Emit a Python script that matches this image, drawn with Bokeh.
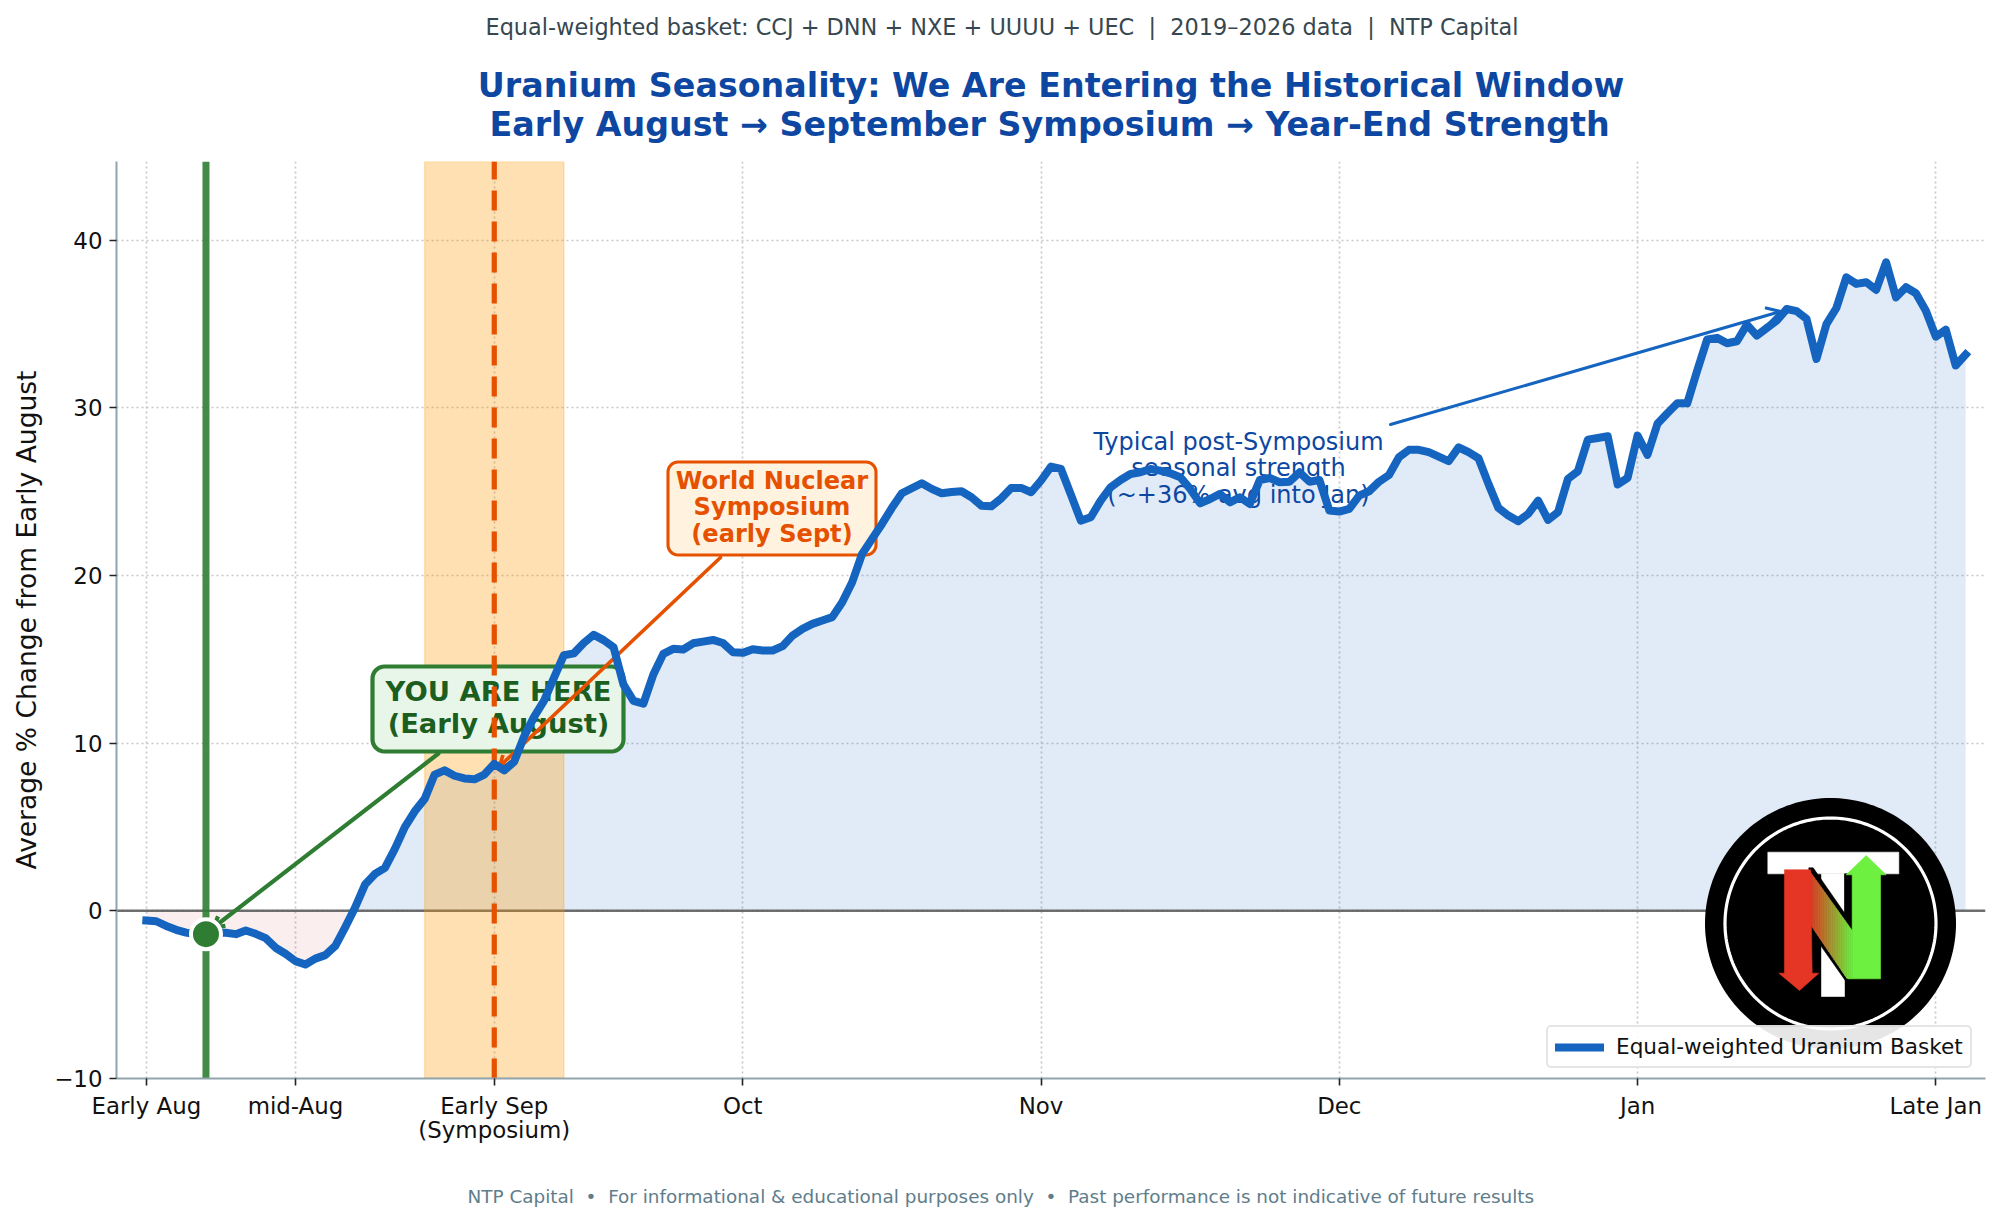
import math
import numpy as np
from bokeh.plotting import figure
from bokeh.embed import file_html
from bokeh.resources import INLINE
from bokeh.models import FixedTicker, Range1d, Title
from bokeh.core.properties import value

# ---- data ----
basket_values = [
    -0.58, -0.62, -0.90, -1.13, -1.30, -1.40, -1.39, -1.30, -1.31, -1.39,
    -1.17, -1.37, -1.63, -2.20, -2.56, -3.00, -3.20, -2.85, -2.64, -2.10,
    -0.98, 0.20, 1.57, 2.20, 2.57, 3.70, 5.00, 5.94, 6.68, 8.13,
    8.38, 8.06, 7.90, 7.85, 8.13, 8.77, 8.38, 8.90, 10.40, 11.57,
    12.53, 13.90, 15.25, 15.36, 15.98, 16.47, 16.15, 15.72, 13.49, 12.53,
    12.36, 14.10, 15.33, 15.63, 15.59, 15.96, 16.06, 16.16, 15.98, 15.43,
    15.39, 15.60, 15.53, 15.53, 15.79, 16.42, 16.82, 17.12, 17.32, 17.52,
    18.41, 19.60, 21.29, 22.19, 23.08, 24.04, 24.91, 25.21, 25.51, 25.17,
    24.91, 24.99, 25.03, 24.67, 24.17, 24.13, 24.61, 25.23, 25.23, 24.97,
    25.67, 26.50, 26.36, 24.83, 23.28, 23.48, 24.47, 25.27, 25.70, 26.06,
    26.16, 26.36, 26.26, 26.10, 25.87, 25.17, 24.31, 24.57, 24.87, 24.37,
    24.67, 24.27, 25.70, 25.82, 25.57, 25.60, 26.16, 25.60, 25.70, 23.88,
    23.82, 23.98, 24.77, 25.03, 25.60, 26.00, 27.06, 27.50, 27.50, 27.36,
    27.10, 26.82, 27.65, 27.36, 27.00, 25.47, 24.04, 23.58, 23.24, 23.68,
    24.47, 23.32, 23.78, 25.77, 26.22, 28.11, 28.21, 28.31, 25.43, 25.83,
    28.35, 27.20, 29.05, 29.68, 30.28, 30.28, 32.23, 34.08, 34.18, 33.86,
    33.98, 34.97, 34.31, 34.77, 35.21, 35.90, 35.77, 35.31, 32.92, 35.00,
    35.96, 37.79, 37.40, 37.50, 37.04, 38.69, 36.60, 37.20, 36.84, 35.80,
    34.25, 34.67, 32.53, 33.18,
]
x_days = list(range(len(basket_values)))
x_tick_positions = [0, 15, 35, 60, 90, 120, 150, 180]
x_tick_labels = ["Early Aug", "mid-Aug", "Early Sep\n(Symposium)", "Oct", "Nov", "Dec", "Jan", "Late Jan"]
y_tick_positions = [-10, 0, 10, 20, 30, 40]
you_are_here_day = 6
symposium_day = 35
symposium_window = (28, 42)

XMIN, XMAX, YMIN, YMAX = -3.0, 185.0, -10.0, 44.7
F_L, F_T, F_W, F_H = 116.0, 161.0, 1869.0, 917.0

def dx(px):
    return XMIN + (px - F_L) * (XMAX - XMIN) / F_W
def dy(py):
    return YMAX - (py - F_T) * (YMAX - YMIN) / F_H

p = figure(width=2000, height=1221, output_backend="svg", toolbar_location=None,
           x_range=Range1d(XMIN, XMAX), y_range=Range1d(YMIN, YMAX),
           min_border_left=116, min_border_right=15, min_border_top=161, min_border_bottom=143,
           outline_line_color=None, background_fill_color="white", border_fill_color="white")

# axes
FONT = "DejaVu Sans"
p.xaxis.ticker = FixedTicker(ticks=x_tick_positions)
p.xaxis.major_label_overrides = dict(zip(x_tick_positions, x_tick_labels))
p.yaxis.ticker = FixedTicker(ticks=y_tick_positions)
for ax in (p.xaxis[0], p.yaxis[0]):
    ax.axis_line_color = "#90A4AE"
    ax.axis_line_width = 2
    ax.major_tick_line_color = "#222222"
    ax.major_tick_line_width = 1.6
    ax.major_tick_in = 0
    ax.major_tick_out = 7
    ax.minor_tick_line_color = None
    ax.major_label_text_font = FONT
    ax.major_label_text_font_size = "22.9px"
    ax.major_label_text_color = "#111111"
p.xaxis.major_label_text_line_height = 0.95
p.xaxis.major_label_standoff = 7
p.yaxis.major_label_standoff = 7
p.yaxis.axis_label = "Average % Change from Early August"
p.yaxis.axis_label_text_font = FONT
p.yaxis.axis_label_text_font_size = "26.5px"
p.yaxis.axis_label_text_font_style = "normal"
p.yaxis.axis_label_text_color = "#111111"
p.yaxis.axis_label_standoff = 9
for g in (p.xgrid[0], p.ygrid[0]):
    g.grid_line_color = "#C8C8C8"
    g.grid_line_dash = "2 3"
    g.grid_line_width = 1.7
p.xgrid.ticker = FixedTicker(ticks=x_tick_positions)
p.ygrid.ticker = FixedTicker(ticks=y_tick_positions)

# heading block: caption on top, then the two-line title (the leading space centres the shorter line)
p.add_layout(Title(text="Uranium Seasonality: We Are Entering the Historical Window\n\u00a0Early August \u2192 September Symposium \u2192 Year-End Strength",
                   align="center", text_font=FONT, text_font_size="33.3px", text_font_style="bold",
                   text_color="#0D47A1", standoff=35), "above")
p.title.text = "Equal-weighted basket: CCJ + DNN + NXE + UUUU + UEC \u00a0|\u00a0 2019\u20132026 data \u00a0|\u00a0 NTP Capital"
p.title.align = "left"
p.title.offset = 369
p.title.text_font = FONT
p.title.text_font_size = "22.4px"
p.title.text_font_style = "normal"
p.title.text_color = "#37474F"
p.title.standoff = 13

# area fills
xs = np.array(x_days, dtype=float)
vs = np.array(basket_values, dtype=float)
p.varea(xs, y1=0, y2=np.clip(vs, 0, None), fill_color="#1565C0", fill_alpha=0.13)
p.varea(xs, y1=0, y2=np.clip(vs, None, 0), fill_color="#C62828", fill_alpha=0.08)
p.line([XMIN, XMAX], [0, 0], line_color="#5f5f5f", line_width=2.5, line_alpha=0.9)

# symposium window
p.quad(left=symposium_window[0], right=symposium_window[1], bottom=YMIN, top=YMAX,
       fill_color="#FF9800", fill_alpha=0.3, line_color="#FF9800", line_alpha=0.25, line_width=1.5)

# you-are-here line
p.line([you_are_here_day, you_are_here_day], [YMIN, YMAX], line_color="#2E7D32", line_alpha=0.9, line_width=7)

def rounded(x0, y0, x1, y1, r, n=8):
    pts = []
    for cx, cy, a0 in ((x1 - r, y0 + r, -90), (x1 - r, y1 - r, 0), (x0 + r, y1 - r, 90), (x0 + r, y0 + r, 180)):
        for k in range(n + 1):
            a = math.radians(a0 + 90 * k / n)
            pts.append((cx + r * math.cos(a), cy + r * math.sin(a)))
    return [dx(a) for a, _ in pts], [dy(b) for _, b in pts]

def arrow(px0, py0, px1, py1, color, width, head=12.0, ang=30.0):
    p.line([dx(px0), dx(px1)], [dy(py0), dy(py1)], line_color=color, line_width=width, line_cap="round")
    t = math.atan2(py0 - py1, px0 - px1)
    bx, by = [], []
    for s in (1, -1):
        a = t + s * math.radians(ang)
        bx.append(dx(px1 + head * math.cos(a)))
        by.append(dy(py1 + head * math.sin(a)))
    p.line([bx[0], dx(px1), bx[1]], [by[0], dy(py1), by[1]], line_color=color, line_width=width, line_join="miter")

# callout boxes and texts (beneath the curve)
gx, gy = rounded(372, 666, 623, 751, 12)
p.patch(gx, gy, fill_color="#E8F5E9", line_color="#2E7D32", line_width=4.2)
p.text([dx(498)], [dy(707)], text=["YOU ARE HERE\n(Early August)"], text_font=value(FONT),
       text_font_size="27.4px", text_font_style="bold", text_color="#1B5E20",
       text_align="center", text_baseline="middle", text_line_height=1.04)
ox, oy = rounded(667.5, 461.5, 875.5, 554.5, 10)
p.patch(ox, oy, fill_color="#FFF3E0", line_color="#E65100", line_width=3.1)
p.text([dx(771.5)], [dy(507)], text=["World Nuclear\nSymposium\n(early Sept)"], text_font=value(FONT),
       text_font_size="24.1px", text_font_style="bold", text_color="#E65100",
       text_align="center", text_baseline="middle", text_line_height=0.955)
p.text([dx(1238)], [dy(468)], text=["Typical post-Symposium\nseasonal strength\n(~+36% avg into Jan)"], text_font=value(FONT),
       text_font_size="24px", text_color="#0D47A1",
       text_align="center", text_baseline="middle", text_line_height=0.96)

# symposium line
p.line([symposium_day, symposium_day], [YMIN, YMAX], line_color="#E65100", line_width=5.2, line_dash="20 11")

# arrows
arrow(720, 557, 499, 766, "#E65100", 3.6, head=12)
arrow(438, 753, 213, 927, "#2E7D32", 4.2, head=12)
arrow(1390, 424, 1780, 311, "#1565C0", 3.1, head=16)

# main curve
p.line(x_days, basket_values, line_color="#1565C0", line_width=8, line_join="round", line_cap="square",
       legend_label="Equal-weighted Uranium Basket")

# you-are-here marker
p.scatter([you_are_here_day], [basket_values[you_are_here_day]], size=30, marker="circle",
          fill_color="#2E7D32", line_color="white", line_width=4)

# logo (drawn as shapes)
LCX, LCY = 1830.0, 923.0
def Z(x, y):
    return dx(1680 + x / 3), dy(780 + y / 3)
def poly(points, color):
    a = [Z(*q) for q in points]
    p.patch([q[0] for q in a], [q[1] for q in a], fill_color=color, line_color=color, line_width=0.6)
def circ(r, fill, line=None, lw=0):
    th = np.linspace(0, 2 * math.pi, 181)
    p.patch([dx(LCX + r * math.cos(t)) for t in th], [dy(LCY + r * math.sin(t)) for t in th],
            fill_color=fill, line_color=line, line_width=lw)
circ(125.5, "#000000")
circ(105.5, "#000000", "#FFFFFF", 3.2)
poly([(262, 215), (655, 215), (655, 280), (262, 280)], "#FFFFFF")
poly([(423, 280), (492, 280), (492, 648), (423, 648)], "#FFFFFF")
poly([(385, 262), (398, 262), (525, 445), (525, 605), (498, 605), (385, 445)], "#000000")
poly([(492, 280), (515, 280), (515, 440), (492, 410)], "#000000")
# N: diagonal with a red to green gradient
RED = np.array([229, 53, 37])
GRN = np.array([110, 240, 64])
steps = 24
top = lambda X: 268 + (X - 385) * (450 - 268) / 130
bot = lambda X: min(595, 440 + (X - 395) * (595 - 440) / 105)
for k in range(steps):
    a, b = 385 + 130 * k / steps, 385 + 130 * (k + 1) / steps
    f = (k + 0.5) / steps
    c = RED + (GRN - RED) * f
    col = "#%02x%02x%02x" % tuple(int(v) for v in c)
    poly([(a, top(a)), (b, top(b)), (b, bot(b)), (a, bot(a))], col)
poly([(312, 268), (390, 268), (395, 578), (415, 578), (357, 630), (295, 578), (312, 578)], "#E53525")
poly([(515, 283), (497, 283), (557, 225), (617, 283), (600, 283), (600, 595), (515, 595)], "#6EF040")

# legend
lg = p.legend[0]
lg.location = (1430, 10)
lg.margin = 0
lg.padding = 7
lg.spacing = 0
lg.glyph_width = 49
lg.glyph_height = 20
lg.label_standoff = 12
lg.label_text_font = FONT
lg.label_text_font_size = "21.6px"
lg.label_text_color = "#111111"
lg.background_fill_color = "white"
lg.background_fill_alpha = 0.9
lg.border_line_color = "#CCCCCC"
lg.border_line_width = 2
lg.border_radius = 5

# footer (a small spacer line keeps it clear of the axis)
p.add_layout(Title(text="\u00a0", text_font=FONT, text_font_size="10px", standoff=24), "below")
p.add_layout(Title(text="NTP Capital \u00a0\u2022\u00a0 For informational & educational purposes only \u00a0\u2022\u00a0 Past performance is not indicative of future results",
                   align="left", offset=351, text_font=FONT, text_font_size="18.4px", text_font_style="normal",
                   text_color="#607D8B", standoff=0), "below")

open("out.html", "w").write(file_html(p, INLINE))
